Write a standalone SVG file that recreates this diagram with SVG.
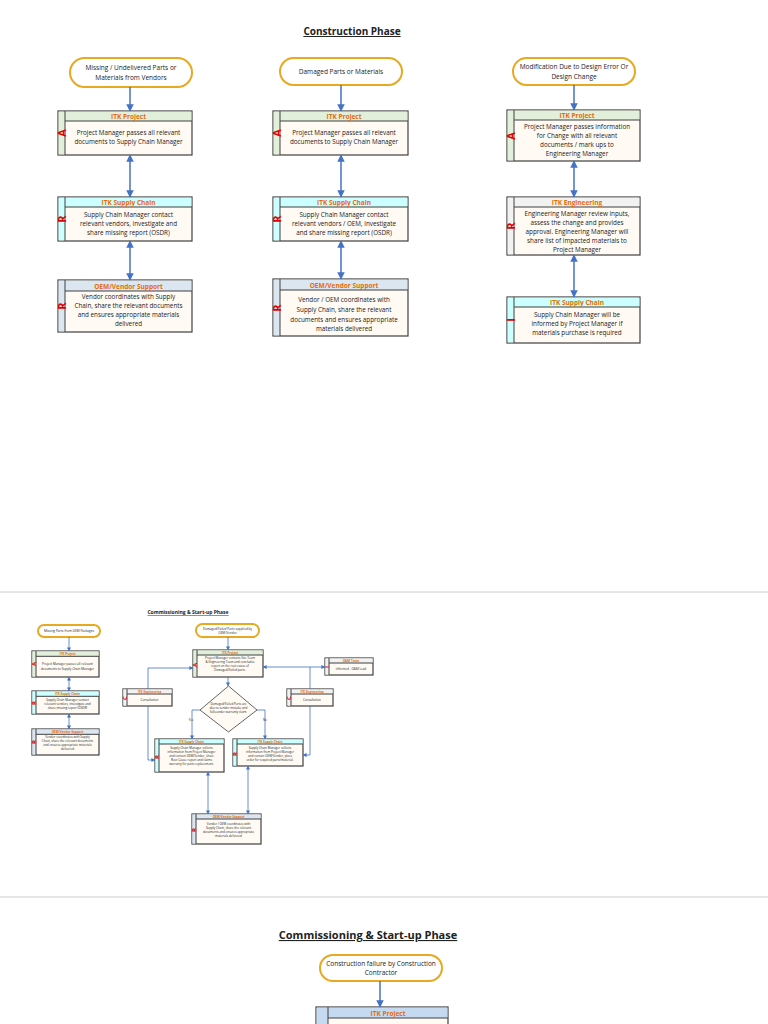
<svg xmlns="http://www.w3.org/2000/svg" width="768" height="1024" viewBox="0 0 768 1024">
<style>
text{font-family:"Open Sans","Liberation Sans",sans-serif;fill:#222}
.pill{fill:#fff;stroke:#E8A820;stroke-width:2}
.box{fill:#FFFAF3;stroke:#404040;stroke-width:1.2}
.hp{fill:#E2EFDA}.hs{fill:#CCFFFF}.ho{fill:#DCE6F1}.he{fill:#F2F2F2}.hb{fill:#C5D9F1}
.hd{stroke:#404040;stroke-width:1;fill:none}
.ht{fill:#E46C0A;font-weight:bold;text-anchor:middle}
.lt{fill:#E00000;font-weight:bold;text-anchor:middle}
.bt{text-anchor:middle}
.ti{font-weight:bold;text-anchor:middle;text-decoration:underline}
.c{stroke:#4472C4;stroke-width:1.5;fill:none}
.cs{stroke:#4472C4;stroke-width:0.8;fill:none}
.sep{stroke:#ccc;stroke-width:1}
</style>
<defs>
<marker id="a" viewBox="0 0 10 10" refX="9" refY="5" markerWidth="5" markerHeight="5" orient="auto-start-reverse"><path d="M0,0L10,5L0,10z" fill="#4472C4"/></marker>
<marker id="b" viewBox="0 0 10 10" refX="9" refY="5" markerWidth="5" markerHeight="5" orient="auto-start-reverse"><path d="M0,0L10,5L0,10z" fill="#4472C4"/></marker>
</defs>
<rect width="768" height="1024" fill="#fff"/>
<line class="sep" x1="0" y1="592" x2="768" y2="592"/>
<line class="sep" x1="0" y1="897" x2="768" y2="897"/>

<!-- ===== Construction Phase ===== -->
<text class="ti" x="352" y="35" font-size="10">Construction Phase</text>

<g id="t-pill1"><rect class="pill" x="70" y="58" width="122" height="29" rx="14.5"/>
<text class="bt" font-size="6.5" x="131" y="70">Missing / Undelivered Parts or</text><text class="bt" font-size="6.5" x="131" y="80">Materials from Vendors</text></g>
<g id="t-pill2"><rect class="pill" x="280" y="58" width="122" height="27" rx="13.5"/>
<text class="bt" font-size="6.5" x="341" y="74">Damaged Parts or Materials</text></g>
<g id="t-pill3"><rect class="pill" x="513" y="58" width="122" height="27" rx="13.5"/>
<text class="bt" font-size="6.5" x="574" y="69">Modification Due to Design Error Or</text><text class="bt" font-size="6.5" x="574" y="79">Design Change</text></g>

<g id="t-p1"><rect class="box" x="58" y="111" width="134" height="44"/><rect class="hp" x="58.6" y="111.6" width="6.4" height="42.8"/><rect class="hp" x="65" y="111.6" width="126.4" height="9.4"/>
<path class="hd" d="M65,111V155M65,121H192"/><text class="ht" font-size="6.5" x="128.5" y="119">ITK Project</text>
<text class="lt" font-size="11" transform="translate(65.5,133) rotate(-90)">A</text>
<text class="bt" font-size="6.3" x="128.5" y="135">Project Manager passes all relevant</text><text class="bt" font-size="6.3" x="128.5" y="144">documents to Supply Chain Manager</text></g>
<g id="t-s1"><rect class="box" x="58" y="197" width="134" height="44"/><rect class="hs" x="58.6" y="197.6" width="6.4" height="42.8"/><rect class="hs" x="65" y="197.6" width="126.4" height="9.4"/>
<path class="hd" d="M65,197V241M65,207H192"/><text class="ht" font-size="6.5" x="128.5" y="205">ITK Supply Chain</text>
<text class="lt" font-size="11" transform="translate(65.5,219) rotate(-90)">R</text>
<text class="bt" font-size="6.3" x="128.5" y="217">Supply Chain Manager contact</text><text class="bt" font-size="6.3" x="128.5" y="226">relevant vendors, investigate and</text><text class="bt" font-size="6.3" x="128.5" y="235">share missing report (OSDR)</text></g>
<g id="t-o1"><rect class="box" x="58" y="280" width="134" height="52"/><rect class="ho" x="58.6" y="280.6" width="6.4" height="50.8"/><rect class="ho" x="65" y="280.6" width="126.4" height="10.4"/>
<path class="hd" d="M65,280V332M65,291H192"/><text class="ht" font-size="6.5" x="128.5" y="289">OEM/Vendor Support</text>
<text class="lt" font-size="11" transform="translate(65.5,306) rotate(-90)">R</text>
<text class="bt" font-size="6.3" x="128.5" y="299">Vendor coordinates with Supply</text><text class="bt" font-size="6.3" x="128.5" y="308">Chain, share the relevant documents</text><text class="bt" font-size="6.3" x="128.5" y="317">and  ensures appropriate materials</text><text class="bt" font-size="6.3" x="128.5" y="326">delivered</text></g>

<g id="t-p2"><rect class="box" x="273" y="111" width="135" height="44"/><rect class="hp" x="273.6" y="111.6" width="6.4" height="42.8"/><rect class="hp" x="280" y="111.6" width="127.4" height="9.4"/>
<path class="hd" d="M280,111V155M280,121H408"/><text class="ht" font-size="6.5" x="344" y="119">ITK Project</text>
<text class="lt" font-size="11" transform="translate(280.5,133) rotate(-90)">A</text>
<text class="bt" font-size="6.3" x="344" y="135">Project Manager passes all relevant</text><text class="bt" font-size="6.3" x="344" y="144">documents to Supply Chain Manager</text></g>
<g id="t-s2"><rect class="box" x="273" y="197" width="135" height="44"/><rect class="hs" x="273.6" y="197.6" width="6.4" height="42.8"/><rect class="hs" x="280" y="197.6" width="127.4" height="9.4"/>
<path class="hd" d="M280,197V241M280,207H408"/><text class="ht" font-size="6.5" x="344" y="205">ITK Supply Chain</text>
<text class="lt" font-size="11" transform="translate(280.5,219) rotate(-90)">R</text>
<text class="bt" font-size="6.3" x="344" y="217">Supply Chain Manager contact</text><text class="bt" font-size="6.3" x="344" y="226">relevant vendors / OEM, investigate</text><text class="bt" font-size="6.3" x="344" y="235">and share missing report (OSDR)</text></g>
<g id="t-o2"><rect class="box" x="273" y="279" width="135" height="57"/><rect class="ho" x="273.6" y="279.6" width="6.4" height="55.8"/><rect class="ho" x="280" y="279.6" width="127.4" height="10.4"/>
<path class="hd" d="M280,279V336M280,290H408"/><text class="ht" font-size="6.5" x="344" y="288">OEM/Vendor Support</text>
<text class="lt" font-size="11" transform="translate(280.5,308) rotate(-90)">R</text>
<text class="bt" font-size="6.3" x="344" y="302">Vendor  / OEM coordinates with</text><text class="bt" font-size="6.3" x="344" y="312">Supply Chain, share the relevant</text><text class="bt" font-size="6.3" x="344" y="322">documents and  ensures appropriate</text><text class="bt" font-size="6.3" x="344" y="331">materials delivered</text></g>

<g id="t-p3"><rect class="box" x="507" y="110" width="133" height="51"/><rect class="hp" x="507.6" y="110.6" width="6.4" height="49.8"/><rect class="hp" x="514" y="110.6" width="125.4" height="9.4"/>
<path class="hd" d="M514,110V161M514,120H640"/><text class="ht" font-size="6.5" x="577" y="118">ITK Project</text>
<text class="lt" font-size="11" transform="translate(514.5,136) rotate(-90)">A</text>
<text class="bt" font-size="6.3" x="577" y="129">Project Manager passes information</text><text class="bt" font-size="6.3" x="577" y="138">for Change with all relevant</text><text class="bt" font-size="6.3" x="577" y="147">documents / mark ups to</text><text class="bt" font-size="6.3" x="577" y="156">Engineering Manager</text></g>
<g id="t-e3"><rect class="box" x="507" y="197" width="133" height="58"/><rect class="he" x="507.6" y="197.6" width="6.4" height="56.8"/><rect class="he" x="514" y="197.6" width="125.4" height="9.4"/>
<path class="hd" d="M514,197V255M514,207H640"/><text class="ht" font-size="6.5" x="577" y="205">ITK Engineering</text>
<text class="lt" font-size="11" transform="translate(514.5,226) rotate(-90)">R</text>
<text class="bt" font-size="6.3" x="577" y="216">Engineering Manager review inputs,</text><text class="bt" font-size="6.3" x="577" y="225">assess the change and provides</text><text class="bt" font-size="6.3" x="577" y="234">approval. Engineering Manager will</text><text class="bt" font-size="6.3" x="577" y="243">share list of impacted materials to</text><text class="bt" font-size="6.3" x="577" y="252">Project Manager</text></g>
<g id="t-s3"><rect class="box" x="507" y="297" width="133" height="46"/><rect class="hs" x="507.6" y="297.6" width="6.4" height="44.8"/><rect class="hs" x="514" y="297.6" width="125.4" height="9.4"/>
<path class="hd" d="M514,297V343M514,307H640"/><text class="ht" font-size="6.5" x="577" y="305">ITK Supply Chain</text>
<text class="lt" font-size="11" transform="translate(514.5,320) rotate(-90)">I</text>
<text class="bt" font-size="6.3" x="577" y="317">Supply Chain Manager will be</text><text class="bt" font-size="6.3" x="577" y="326">informed by Project Manager if</text><text class="bt" font-size="6.3" x="577" y="335">materials purchase is required</text></g>

<!-- ===== Commissioning (middle) ===== -->
<text class="ti" x="188" y="614" font-size="5">Commissioning &amp; Start-up Phase</text>

<g id="m-pillL"><rect class="pill" x="38" y="625" width="62" height="12" rx="6" stroke-width="1"/><text class="bt" font-size="3.2" x="69" y="632">Missing Parts from OEM Packages</text></g>
<g id="m-pL"><rect class="box" x="32" y="651" width="67" height="26" stroke-width="0.6"/><rect class="hp" x="32.3" y="651.3" width="3.7" height="25.4"/><rect class="hp" x="36" y="651.3" width="62.7" height="5"/>
<path class="hd" stroke-width="0.5" d="M36,651V677M36,656.3H99"/><text class="ht" font-size="3" x="67.5" y="655.3">ITK Project</text><text class="lt" font-size="6" transform="translate(36,664) rotate(-90)">A</text>
<text class="bt" font-size="3.1" x="67.5" y="665">Project Manager passes all relevant</text><text class="bt" font-size="3.1" x="67.5" y="669.5">documents to Supply Chain Manager</text></g>
<g id="m-sL"><rect class="box" x="32" y="691" width="67" height="23" stroke-width="0.6"/><rect class="hs" x="32.3" y="691.3" width="3.7" height="22.4"/><rect class="hs" x="36" y="691.3" width="62.7" height="5"/>
<path class="hd" stroke-width="0.5" d="M36,691V714M36,696.3H99"/><text class="ht" font-size="3" x="67.5" y="695.3">ITK Supply Chain</text><text class="lt" font-size="6" transform="translate(36,703) rotate(-90)">R</text>
<text class="bt" font-size="3" x="67.5" y="701">Supply Chain Manager contact</text><text class="bt" font-size="3" x="67.5" y="705">relevant vendors, investigate and</text><text class="bt" font-size="3" x="67.5" y="709">share missing report (OSDR)</text></g>
<g id="m-oL"><rect class="box" x="32" y="729" width="67" height="26" stroke-width="0.6"/><rect class="ho" x="32.3" y="729.3" width="3.7" height="25.4"/><rect class="ho" x="36" y="729.3" width="62.7" height="5"/>
<path class="hd" stroke-width="0.5" d="M36,729V755M36,734.3H99"/><text class="ht" font-size="3" x="67.5" y="733.3">OEM/Vendor Support</text><text class="lt" font-size="6" transform="translate(36,742) rotate(-90)">R</text>
<text class="bt" font-size="3" x="67.5" y="738">Vendor coordinates with Supply</text><text class="bt" font-size="3" x="67.5" y="742">Chain, share the relevant documents</text><text class="bt" font-size="3" x="67.5" y="746">and  ensures appropriate materials</text><text class="bt" font-size="3" x="67.5" y="750">delivered</text></g>

<g id="m-pillC"><rect class="pill" x="196" y="624" width="63" height="13" rx="6.5" stroke-width="1"/><text class="bt" font-size="3.1" x="227.5" y="629.5">Damaged/Failed Parts supplied by</text><text class="bt" font-size="3.1" x="227.5" y="634">OEM/Vendor</text></g>
<g id="m-pC"><rect class="box" x="193" y="650" width="70" height="27" stroke-width="0.6"/><rect class="hp" x="193.3" y="650.3" width="3.7" height="26.4"/><rect class="hp" x="197" y="650.3" width="65.7" height="4.7"/>
<path class="hd" stroke-width="0.5" d="M197,650V677M197,655H263"/><text class="ht" font-size="3" x="230" y="654">ITK Project</text><text class="lt" font-size="6" transform="translate(197,665) rotate(-90)">A</text>
<text class="bt" font-size="3" x="230" y="659">Project Manager contacts Site Team</text><text class="bt" font-size="3" x="230" y="663">&amp; Engineering Team and concludes</text><text class="bt" font-size="3" x="230" y="667">report on the root cause of</text><text class="bt" font-size="3" x="230" y="671">Damaged/Failed parts.</text></g>
<g id="m-dia"><path d="M228.5,686L257,710L228.5,732L200,710Z" fill="#FFFAF3" stroke="#222" stroke-width="0.7"/>
<text class="bt" font-size="3" x="228.5" y="705">Damaged/Failed Parts are</text><text class="bt" font-size="3" x="228.5" y="709">due to vendor mistake and</text><text class="bt" font-size="3" x="228.5" y="713">falls under warranty claim.</text></g>
<g id="m-eL"><rect class="box" x="123" y="689" width="49" height="17" stroke-width="0.6"/><rect class="he" x="123.3" y="689.3" width="3.7" height="16.4"/><rect class="he" x="127" y="689.3" width="44.7" height="4.7"/>
<path class="hd" stroke-width="0.5" d="M127,689V706M127,694H172"/><text class="ht" font-size="3" x="149.5" y="693">ITK Engineering</text><text class="lt" font-size="6" transform="translate(127,698) rotate(-90)">C</text>
<text class="bt" font-size="3" x="149.5" y="701">Consultation</text></g>
<g id="m-eR"><rect class="box" x="287" y="689" width="46" height="17" stroke-width="0.6"/><rect class="he" x="287.3" y="689.3" width="3.7" height="16.4"/><rect class="he" x="291" y="689.3" width="41.7" height="4.7"/>
<path class="hd" stroke-width="0.5" d="M291,689V706M291,694H333"/><text class="ht" font-size="3" x="312" y="693">ITK Engineering</text><text class="lt" font-size="6" transform="translate(291,698) rotate(-90)">C</text>
<text class="bt" font-size="3" x="312" y="701">Consultation</text></g>
<g id="m-om"><rect class="box" x="325" y="658" width="48" height="17" stroke-width="0.6"/><rect class="he" x="325.3" y="658.3" width="3.7" height="16.4"/><rect class="he" x="329" y="658.3" width="43.7" height="4.7"/>
<path class="hd" stroke-width="0.5" d="M329,658V675M329,663H373"/><text class="ht" font-size="3" x="351" y="662">O&amp;M Team</text><text class="lt" font-size="6" transform="translate(329,667) rotate(-90)">I</text>
<text class="bt" font-size="3" x="351" y="670">Informed - O&amp;M Lead</text></g>
<g id="m-sC1"><rect class="box" x="155" y="739" width="69" height="33" stroke-width="0.6"/><rect class="hs" x="155.3" y="739.3" width="3.7" height="32.4"/><rect class="hs" x="159" y="739.3" width="64.7" height="4.7"/>
<path class="hd" stroke-width="0.5" d="M159,739V772M159,744H224"/><text class="ht" font-size="3" x="191.5" y="743">ITK Supply Chain</text><text class="lt" font-size="6" transform="translate(159,757) rotate(-90)">R</text>
<text class="bt" font-size="3" x="191.5" y="749">Supply Chain Manager collects</text><text class="bt" font-size="3" x="191.5" y="753">information from Project Manager</text><text class="bt" font-size="3" x="191.5" y="757">and contact OEM/Vendor, share</text><text class="bt" font-size="3" x="191.5" y="761">Root Cause report and claims</text><text class="bt" font-size="3" x="191.5" y="765">warranty for parts replacement.</text></g>
<g id="m-sC2"><rect class="box" x="233" y="739" width="70" height="27" stroke-width="0.6"/><rect class="hs" x="233.3" y="739.3" width="3.7" height="26.4"/><rect class="hs" x="237" y="739.3" width="65.7" height="4.7"/>
<path class="hd" stroke-width="0.5" d="M237,739V766M237,744H303"/><text class="ht" font-size="3" x="270" y="743">ITK Supply Chain</text><text class="lt" font-size="6" transform="translate(237,754) rotate(-90)">R</text>
<text class="bt" font-size="3" x="270" y="749">Supply Chain Manager collects</text><text class="bt" font-size="3" x="270" y="753">information from Project Manager</text><text class="bt" font-size="3" x="270" y="757">and contact OEM/Vendor, place</text><text class="bt" font-size="3" x="270" y="761">order for required parts/material.</text></g>
<g id="m-oC"><rect class="box" x="192" y="814" width="69" height="30" stroke-width="0.6"/><rect class="ho" x="192.3" y="814.3" width="3.7" height="29.4"/><rect class="ho" x="196" y="814.3" width="64.7" height="4.7"/>
<path class="hd" stroke-width="0.5" d="M196,814V844M196,819H261"/><text class="ht" font-size="3" x="228.5" y="818">OEM/Vendor Support</text><text class="lt" font-size="6" transform="translate(196,830) rotate(-90)">R</text>
<text class="bt" font-size="3" x="228.5" y="825">Vendor  / OEM coordinates with</text><text class="bt" font-size="3" x="228.5" y="829">Supply Chain, share the relevant</text><text class="bt" font-size="3" x="228.5" y="833">documents and  ensures appropriate</text><text class="bt" font-size="3" x="228.5" y="837">materials delivered</text></g>

<!-- ===== Commissioning (bottom) ===== -->
<text class="ti" x="368" y="939" font-size="11">Commissioning &amp; Start-up Phase</text>
<g id="b-pill"><rect class="pill" x="320" y="955" width="122" height="26" rx="13"/><text class="bt" font-size="6.5" x="381" y="966">Construction failure by Construction</text><text class="bt" font-size="6.5" x="381" y="975">Contractor</text></g>
<g id="b-p"><rect class="box" x="316" y="1007" width="132" height="30"/><rect class="hb" x="316.6" y="1007.6" width="11.4" height="29"/><rect class="hb" x="328" y="1007.6" width="119.4" height="10.4"/>
<path class="hd" d="M328,1007V1037M328,1018H448"/><text class="ht" font-size="6.5" x="388" y="1015.5">ITK Project</text></g>

<g id="connectors">
<path class="c" marker-end="url(#a)" d="M130,87V111"/>
<path class="c" marker-start="url(#a)" marker-end="url(#a)" d="M130,155V197"/>
<path class="c" marker-start="url(#a)" marker-end="url(#a)" d="M130,241V280"/>
<path class="c" marker-end="url(#a)" d="M341,85V111"/>
<path class="c" marker-start="url(#a)" marker-end="url(#a)" d="M341,155V197"/>
<path class="c" marker-start="url(#a)" marker-end="url(#a)" d="M341,241V279"/>
<path class="c" marker-end="url(#a)" d="M574,85V110"/>
<path class="c" marker-start="url(#a)" marker-end="url(#a)" d="M574,161V197"/>
<path class="c" marker-start="url(#a)" marker-end="url(#a)" d="M574,255V297"/>
<path class="c" marker-end="url(#a)" d="M380,981V1007"/>

<path class="cs" marker-end="url(#b)" d="M69,637V651"/>
<path class="cs" marker-start="url(#b)" marker-end="url(#b)" d="M69,677V691"/>
<path class="cs" marker-start="url(#b)" marker-end="url(#b)" d="M69,714V729"/>
<path class="cs" marker-end="url(#b)" d="M228,637V650"/>
<path class="cs" marker-end="url(#b)" d="M228,677V686"/>
<path class="cs" marker-end="url(#b)" d="M200,710H192V739"/>
<path class="cs" marker-end="url(#b)" d="M257,710H265V739"/>
<path class="cs" marker-end="url(#b)" d="M148,689V668H193"/>
<path class="cs" marker-end="url(#b)" d="M148,706V760H155"/>
<path class="cs" marker-start="url(#b)" marker-end="url(#b)" d="M325,667H263"/>
<path class="cs" d="M310,689V667"/>
<path class="cs" marker-end="url(#b)" d="M310,706V755H303"/>
<path class="cs" marker-start="url(#b)" marker-end="url(#b)" d="M208,772V814"/>
<path class="cs" marker-start="url(#b)" marker-end="url(#b)" d="M248,766V814"/>
<text font-size="2.8" x="191" y="721" text-anchor="middle" fill="#4472C4">Yes</text>
<text font-size="2.8" x="265" y="721" text-anchor="middle" fill="#4472C4">No</text>
</g>
</svg>
